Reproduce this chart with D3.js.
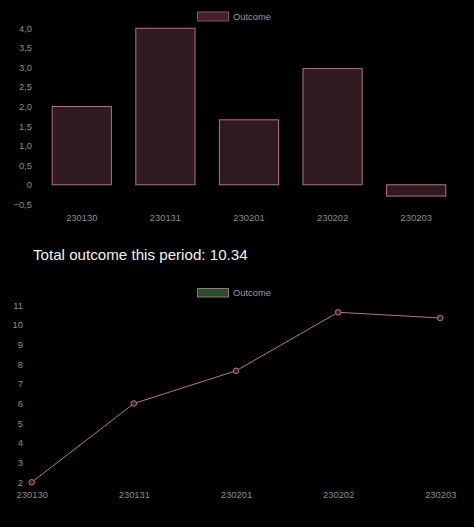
<!DOCTYPE html>
<html>
<head>
<meta charset="utf-8">
<script src="https://cdn.jsdelivr.net/npm/d3@7"></script>
<style>
  html, body { margin: 0; padding: 0; background: #000; }
  svg { display: block; }
  text { font-family: "Liberation Sans", Arial, Helvetica, sans-serif; }
</style>
</head>
<body>
<script>
// ---- data ----
const categories = ["230130", "230131", "230201", "230202", "230203"];
const outcomeValues = [2.0, 4.0, 1.66, 2.97, -0.29];
const cumulativeValues = [2.0, 6.0, 7.66, 10.63, 10.34];
const barTicks = [-0.5, 0, 0.5, 1.0, 1.5, 2.0, 2.5, 3.0, 3.5, 4.0];
const lineTicks = [2, 3, 4, 5, 6, 7, 8, 9, 10, 11];
const seriesName = "Outcome";
const titleText = "Total outcome this period: 10.34";

// ---- setup ----
const W = 474, H = 527;
const svg = d3.select("body").append("svg").attr("width", W).attr("height", H);
svg.append("rect").attr("width", W).attr("height", H).attr("fill", "#000");

const tickColor = "#8c8c8c";
const legendTextColor = "#9a9a9a";
const barFill = "#2f1a1f";
const barStroke = "#b8707f";
const lineColor = "#b87682";
const fontSize = 9.4;

const fmt = v => v === 0 ? "0" : (v < 0 ? "\u2212" : "") + Math.abs(v).toFixed(1).replace(".", ",");

// ---- bar chart ----
const xb = d3.scaleBand().domain(categories).range([40, 458]).paddingInner(0.28).paddingOuter(0.14);
const yb = d3.scaleLinear().domain([-0.5, 4.0]).range([204.3, 28.3]);

const gBar = svg.append("g");
gBar.selectAll("rect.bar").data(outcomeValues).join("rect")
  .attr("class", "bar")
  .attr("x", (d, i) => xb(categories[i]) + 0.5)
  .attr("width", xb.bandwidth() - 1)
  .attr("y", d => Math.min(yb(d), yb(0)))
  .attr("height", d => Math.abs(yb(d) - yb(0)))
  .attr("fill", barFill)
  .attr("stroke", barStroke)
  .attr("stroke-width", 1);

const yAxisBar = d3.axisLeft(yb).tickValues(barTicks).tickFormat(fmt).tickSize(0).tickPadding(0);
const gyb = gBar.append("g").attr("transform", "translate(32,0)").call(yAxisBar);
gyb.select(".domain").remove();
gyb.selectAll("text").attr("fill", tickColor).attr("font-size", fontSize);

const xAxisBar = d3.axisBottom(xb).tickSize(0).tickPadding(0);
const gxb = gBar.append("g").attr("transform", "translate(0,214.5)").call(xAxisBar);
gxb.select(".domain").remove();
gxb.selectAll("text").attr("fill", tickColor).attr("font-size", fontSize);

// legend 1
const leg1 = svg.append("g");
leg1.append("rect").attr("x", 197.5).attr("y", 12).attr("width", 31).attr("height", 9)
  .attr("fill", "#43202a").attr("stroke", "#8e4f60").attr("stroke-width", 1);
leg1.append("text").attr("x", 233).attr("y", 19.6).attr("fill", legendTextColor)
  .attr("font-size", fontSize).text(seriesName);

// ---- title ----
svg.append("text").attr("x", 33).attr("y", 260).attr("fill", "#f2f2f2")
  .attr("font-size", 15.15).text(titleText);

// ---- line chart ----
const xl = d3.scalePoint().domain(categories).range([31.7, 440.3]);
const yl = d3.scaleLinear().domain([2, 11]).range([482.3, 305]);

const gLine = svg.append("g");
const yAxisLine = d3.axisLeft(yl).tickValues(lineTicks).tickFormat(d3.format("d")).tickSize(0).tickPadding(0);
const gyl = gLine.append("g").attr("transform", "translate(23,0)").call(yAxisLine);
gyl.select(".domain").remove();
gyl.selectAll("text").attr("fill", tickColor).attr("font-size", fontSize);

const xAxisLine = d3.axisBottom(xl).tickSize(0).tickPadding(0);
const gxl = gLine.append("g").attr("transform", "translate(0,491.5)").call(xAxisLine);
gxl.select(".domain").remove();
gxl.selectAll("text").attr("fill", tickColor).attr("font-size", fontSize);

const line = d3.line().x((d, i) => xl(categories[i])).y(d => yl(d));
gLine.append("path").datum(cumulativeValues).attr("d", line)
  .attr("fill", "none").attr("stroke", lineColor).attr("stroke-width", 1);
gLine.selectAll("circle").data(cumulativeValues).join("circle")
  .attr("cx", (d, i) => xl(categories[i])).attr("cy", d => yl(d)).attr("r", 2.8)
  .attr("fill", "#3a2227").attr("stroke", lineColor).attr("stroke-width", 1);

// legend 2
const leg2 = svg.append("g");
leg2.append("rect").attr("x", 197.5).attr("y", 288.5).attr("width", 31).attr("height", 8.5)
  .attr("fill", "#2b4a2e").attr("stroke", "#9a7372").attr("stroke-width", 1);
leg2.append("text").attr("x", 233).attr("y", 296).attr("fill", legendTextColor)
  .attr("font-size", fontSize).text(seriesName);
</script>
</body>
</html>
